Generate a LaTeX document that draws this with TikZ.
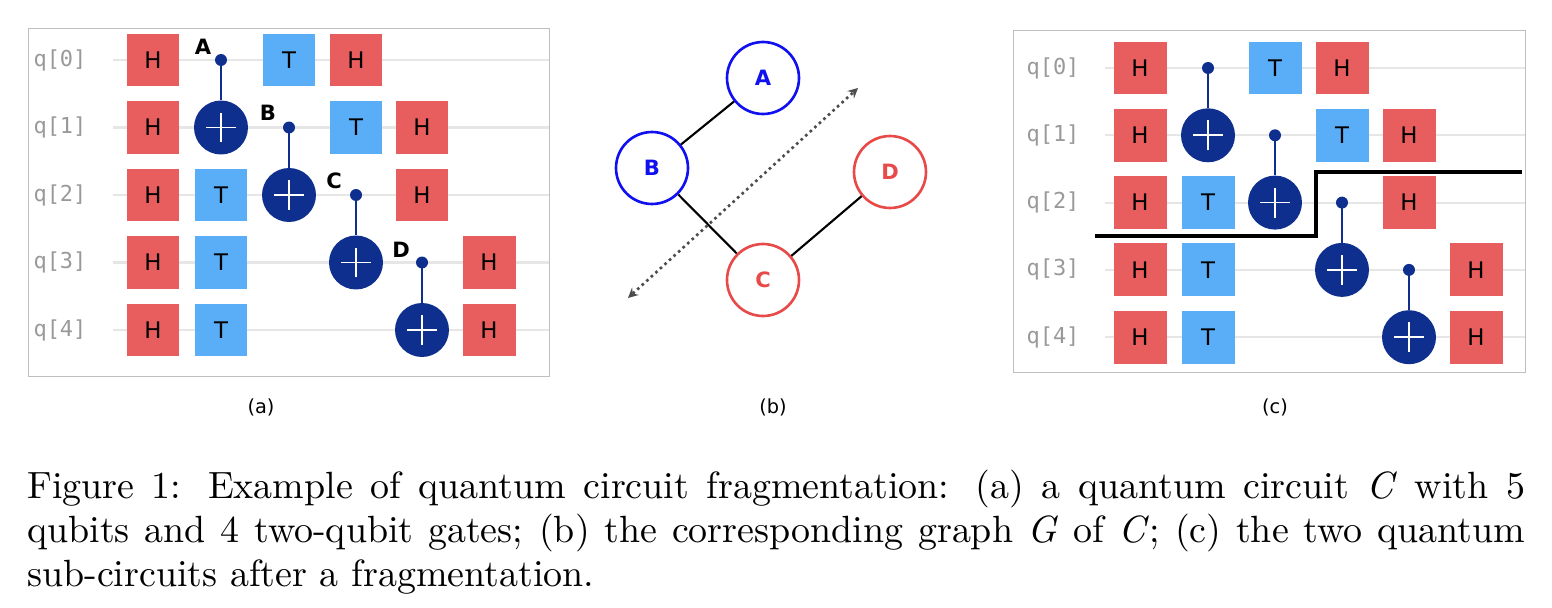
\documentclass[tikz,border=0pt]{standalone}
\usepackage{fontspec}
\setsansfont{DejaVu Sans}
\setmonofont{DejaVu Sans Mono}
\newfontfamily\capfont[Extension=.otf,UprightFont=lmroman10-regular,ItalicFont=lmroman10-italic]{lmroman10-regular}
\begin{document}
\begin{tikzpicture}[x=0.02cm,y=-0.02cm,
  hgate/.style={fill=hred,minimum size=1.06cm,inner sep=0,font=\sffamily\fontsize{13}{13}\selectfont},
  tgate/.style={fill=tblue,minimum size=1.06cm,inner sep=0,font=\sffamily\fontsize{13}{13}\selectfont},
  targ/.style={circle,fill=navy,minimum size=1.08cm,inner sep=0},
  ctrl/.style={circle,fill=navy,minimum size=0.24cm,inner sep=0},
  wire/.style={draw=wiregray,line width=1.2pt},
  qlab/.style={font=\ttfamily\fontsize{12.5}{12.5}\selectfont,text=gray!80},
  glab/.style={font=\sffamily\bfseries\fontsize{12}{12}\selectfont},
  vnode/.style={circle,line width=1.5pt,minimum size=1.44cm,inner sep=0,fill=white,font=\sffamily\bfseries\fontsize{12}{12}\selectfont},
  sub/.style={font=\sffamily\fontsize{11}{11}\selectfont}]
\definecolor{hred}{HTML}{E85D5D}
\definecolor{tblue}{HTML}{5AAEF7}
\definecolor{navy}{HTML}{0E2F8E}
\definecolor{wiregray}{HTML}{E6E6E6}
\definecolor{vblue}{HTML}{1010F0}
\definecolor{vred}{HTML}{E84A4A}
\useasboundingbox (0,0) rectangle (1552,608);
\newcommand{\plus}[1]{\draw[white,line width=1pt] ([xshift=-0.3cm]#1.center) -- ([xshift=0.3cm]#1.center) ([yshift=-0.3cm]#1.center) -- ([yshift=0.3cm]#1.center);}
% ---------- panel (a)
\draw[gray!50] (28,28) rectangle (549,376);
\foreach \i/\y in {0/60,1/127.5,2/195,3/262.5,4/330}{
  \node[qlab] (qa\i) at (60,\y) {q[\i]};
  \draw[wire] (113,\y) -- (549,\y);
}
\foreach \i/\y in {0/60,1/127.5,2/195,3/262.5,4/330} \node[hgate] (ah\i) at (153,\y) {H};
\foreach \i/\y in {2/195,3/262.5,4/330} \node[tgate] (at\i) at (221,\y) {T};
\node[tgate] (at0) at (289,60) {T}; \node[hgate] (ah0b) at (356,60) {H};
\node[tgate] (at1) at (356,127.5) {T}; \node[hgate] (ah1b) at (422,127.5) {H};
\node[hgate] (ah2b) at (422,195) {H};
\node[hgate] (ah3b) at (489,262.5) {H};
\node[hgate] (ah4b) at (489,330) {H};
\node[ctrl] (acA) at (221,60) {}; \node[targ] (atA) at (221,127.5) {};
\node[ctrl] (acB) at (289,127.5) {}; \node[targ] (atB) at (289,195) {};
\node[ctrl] (acC) at (356,195) {}; \node[targ] (atC) at (356,262.5) {};
\node[ctrl] (acD) at (422,262.5) {}; \node[targ] (atD) at (422,330) {};
\foreach \n in {A,B,C,D}{\draw[navy,line width=1pt] (ac\n.center) -- (at\n); \plus{at\n}}
\node[glab] (laA) at (203,47) {A};
\node[glab] (laB) at (268,113) {B};
\node[glab] (laC) at (334,181) {C};
\node[glab] (laD) at (401,250) {D};
\node[sub] (suba) at (261,407) {(a)};
% ---------- panel (b)
\node[vnode,draw=vblue,text=vblue] (A) at (763,78) {A};
\node[vnode,draw=vblue,text=vblue] (B) at (652,168) {B};
\node[vnode,draw=vred,text=vred] (C) at (763,280) {C};
\node[vnode,draw=vred,text=vred] (D) at (890,172) {D};
\draw[line width=1.2pt] (A) -- (B) (B) -- (C) (C) -- (D);
\coordinate (p1) at (628,298); \coordinate (p2) at (858,88);
\draw[gray!60!black,line width=1.5pt,dotted,<->,>=stealth] (p1) -- (p2);
\node[sub] (subb) at (773,407) {(b)};
% ---------- panel (c)
\draw[gray!50] (1013,30) rectangle (1525,372);
\foreach \i/\y in {0/68,1/135.3,2/202.6,3/269.9,4/337.2}{
  \node[qlab] (qc\i) at (1053,\y) {q[\i]};
  \draw[wire] (1105,\y) -- (1525,\y);
}
\foreach \i/\y in {0/68,1/135.3,2/202.6,3/269.9,4/337.2} \node[hgate] (ch\i) at (1140,\y) {H};
\foreach \i/\y in {2/202.6,3/269.9,4/337.2} \node[tgate] (ct\i) at (1208,\y) {T};
\node[tgate] (ct0) at (1275,68) {T}; \node[hgate] (ch0b) at (1342,68) {H};
\node[tgate] (ct1) at (1342,135.3) {T}; \node[hgate] (ch1b) at (1409,135.3) {H};
\node[hgate] (ch2b) at (1409,202.6) {H};
\node[hgate] (ch3b) at (1476,269.9) {H};
\node[hgate] (ch4b) at (1476,337.2) {H};
\node[ctrl] (ccA) at (1208,68) {}; \node[targ] (ctA) at (1208,135.3) {};
\node[ctrl] (ccB) at (1275,135.3) {}; \node[targ] (ctB) at (1275,202.6) {};
\node[ctrl] (ccC) at (1342,202.6) {}; \node[targ] (ctC) at (1342,269.9) {};
\node[ctrl] (ccD) at (1409,269.9) {}; \node[targ] (ctD) at (1409,337.2) {};
\foreach \n in {A,B,C,D}{\draw[navy,line width=1pt] (cc\n.center) -- (ct\n); \plus{ct\n}}
\coordinate (k1) at (1095,236); \coordinate (k2) at (1316,236);
\coordinate (k3) at (1316,172); \coordinate (k4) at (1522,172);
\draw[line width=2pt] (k1) -- (k2) -- (k3) -- (k4);
\node[sub] (subc) at (1275,407) {(c)};
% ---------- caption
\node[anchor=north west,inner sep=0,text width=29.96cm,align=justify,
  font=\capfont\fontsize{21.6}{25}\selectfont] (cap) at (27,470)
  {Figure 1: Example of quantum circuit fragmentation: (a) a quantum circuit \textit{C} with 5 qubits and 4 two-qubit gates; (b) the corresponding graph \textit{G} of \textit{C}; (c) the two quantum sub-circuits after a fragmentation.};
\end{tikzpicture}
\end{document}
